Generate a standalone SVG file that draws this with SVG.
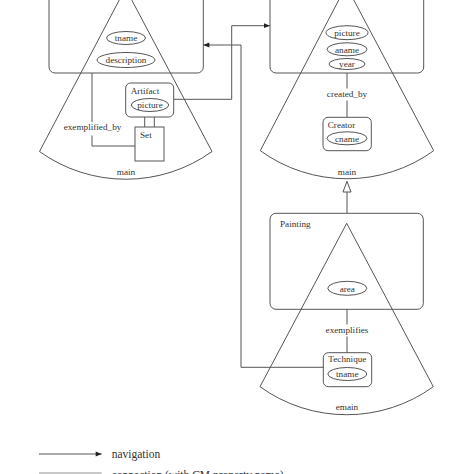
<svg xmlns="http://www.w3.org/2000/svg" width="474" height="474" viewBox="0 0 474 474">
<defs>
<style>
.ln{fill:none;stroke:#555;stroke-width:1}
.box{fill:none;stroke:#555;stroke-width:1}
.t{font-family:"Liberation Serif","Times New Roman",serif;font-size:9.2px;fill:#333}
.c{text-anchor:middle}
.lg{font-family:"Liberation Serif","Times New Roman",serif;font-size:11.5px;fill:#333}
</style>
<marker id="arr" viewBox="0 0 10 10" refX="10" refY="5" markerWidth="8" markerHeight="6" markerUnits="userSpaceOnUse" orient="auto">
<path d="M0,1 L10,5 L0,9 Z" fill="#222"/>
</marker>
</defs>
<rect width="474" height="474" fill="#fff"/>

<g id="Technique_rect_left">
<rect class="box" x="49" y="-20" width="154.3" height="93" rx="6"/>
<path class="ln" d="M125.5,-11.8 L39.5,151.5 A148,148 0 0 0 212,151.5 Z"/>
<ellipse class="box" cx="126" cy="38" rx="19.5" ry="6.5"/>
<text class="t c" x="126" y="41.2">tname</text>
<ellipse class="box" cx="126" cy="60" rx="29" ry="7.5"/>
<text class="t c" x="126" y="63.2">description</text>
<text class="t c" x="126" y="175">main</text>
</g>

<g id="Artifact">
<rect class="box" x="125.7" y="83" width="48" height="34" rx="5"/>
<text class="t" x="130.7" y="94">Artifact</text>
<ellipse class="box" cx="150" cy="105" rx="18.7" ry="6.5"/>
<text class="t c" x="150" y="108.2">picture</text>
</g>

<g id="Set">
<rect class="box" x="135" y="127" width="29" height="34"/>
<text class="t" x="140" y="137.5">Set</text>
</g>

<g id="Artifact_rect_right">
<rect class="box" x="270" y="-20" width="153.7" height="93" rx="6"/>
<path class="ln" d="M346.2,-14.3 L260.3,150.7 A148,148 0 0 0 433.7,150.7 Z"/>
<ellipse class="box" cx="347" cy="32.7" rx="21" ry="7"/>
<text class="t c" x="347" y="35.9">picture</text>
<ellipse class="box" cx="347" cy="49.3" rx="20" ry="6.5"/>
<text class="t c" x="347" y="52.5">aname</text>
<ellipse class="box" cx="347" cy="64" rx="18" ry="5.5"/>
<text class="t c" x="347" y="67">year</text>
<text class="t c" x="347" y="175">main</text>
</g>

<g id="Creator">
<rect class="box" x="323" y="117.3" width="48.3" height="33.4" rx="5"/>
<text class="t" x="327.7" y="127.5">Creator</text>
<ellipse class="box" cx="347" cy="138.3" rx="20" ry="6.5"/>
<text class="t c" x="347" y="141.5">cname</text>
</g>

<g id="Painting">
<rect class="box" x="270" y="213.3" width="153.3" height="96" rx="6"/>
<text class="t" x="280" y="227">Painting</text>
<path class="ln" d="M346.7,223.3 L260,386.7 A148,148 0 0 0 433.3,386.7 Z"/>
<ellipse class="box" cx="347.3" cy="288.3" rx="19.5" ry="7"/>
<text class="t c" x="347.3" y="291.5">area</text>
<text class="t c" x="347" y="410">emain</text>
</g>

<g id="Technique">
<rect class="box" x="323.3" y="352.7" width="48.4" height="34" rx="5"/>
<text class="t" x="328.3" y="361.5">Technique</text>
<ellipse class="box" cx="347.3" cy="374" rx="19.5" ry="6.5"/>
<text class="t c" x="347.3" y="377.2">tname</text>
</g>

<g id="connectors">
<path class="ln" d="M174,99.3 H231.7 V25.7 H270" marker-end="url(#arr)"/>
<path class="ln" d="M323.3,367.3 H241 V45 H203.3" marker-end="url(#arr)"/>
<path class="ln" d="M92,73 V122"/>
<path class="ln" d="M92,135.5 V146 H135"/>
<text class="t c" x="92.5" y="130">exemplified_by</text>
<path class="ln" d="M144.7,117 V127 M154.3,117 V127"/>
<path class="ln" d="M347,73 V88.5 M347,100.5 V117.3"/>
<text class="t c" x="347" y="97">created_by</text>
<path class="ln" d="M347,213.3 V192"/>
<path d="M347,181.3 L351,192 L343,192 Z" fill="#fff" stroke="#555" stroke-width="1"/>
<path class="ln" d="M347,309.3 V324.5 M347,336.5 V352.7"/>
<text class="t c" x="347" y="333">exemplifies</text>
</g>

<g id="legend">
<path class="ln" d="M39,454 H101.7" marker-end="url(#arr)"/>
<text class="lg" x="111.7" y="458">navigation</text>
<path d="M39,473.5 H101.7" stroke="#c8c8c8" stroke-width="3" fill="none"/>
<text class="lg" x="111.7" y="479">connection (with CM property name)</text>
</g>
</svg>
